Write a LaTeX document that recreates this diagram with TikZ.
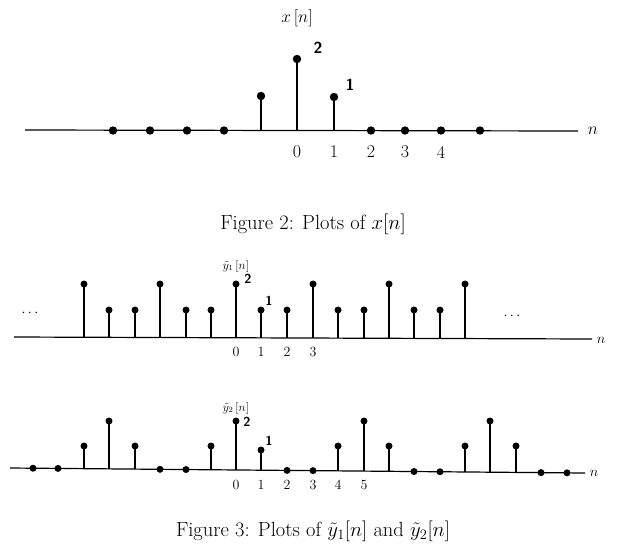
\documentclass[tikz,border=0pt]{standalone}
\begin{document}
\begin{tikzpicture}[x=1pt,y=-1pt,
  stem/.style={line width=1.4pt},
  axisline/.style={line width=1.2pt},
  lab/.style={font=\fontsize{18}{20}\selectfont},
  val/.style={font=\sffamily\bfseries\fontsize{16}{18}\selectfont},
  sval/.style={font=\sffamily\bfseries\fontsize{13}{15}\selectfont},
  slab/.style={font=\fontsize{14}{16}\selectfont},
  figcap/.style={font=\fontsize{20.5}{24}\selectfont}]
\useasboundingbox (0,0) rectangle (639,558);
% ---------- plot 1
\draw[axisline] (25,130) -- (578,131);
\foreach \x in {113,150,187,224,371,405,441,480} \fill (\x,130.5) circle (4.2);
\foreach \x/\t in {261/96,297/59,334/97}{\draw[stem] (\x,130.5) -- (\x,\t); \fill (\x,\t) circle (4.2);}
\foreach \x/\l in {297/0,334/1,371/2,405/3,441/4} \node[lab] at (\x,152) {\l};
\node[lab] (xn) at (297,18) {$x\,[n]$};
\node[val] at (318,48) {2};
\node[val] at (350,85) {1};
\node[lab] at (593,131) {$n$};
\node[figcap] (c2) at (313,224) {Figure 2: Plots of $x[n]$};
% ---------- plot 2
\draw[axisline] (14,337) -- (592,339);
\foreach \x in {84,160,236,313,389,465}{\draw[stem] (\x,338) -- (\x,284); \fill (\x,284) circle (3.5);}
\foreach \x in {109,135,186,211,261,287,338,364,414,440}{\draw[stem] (\x,338) -- (\x,310); \fill (\x,310) circle (3.5);}
\foreach \x/\l in {236/0,261/1,287/2,313/3} \node[slab] at (\x,352) {\l};
\node[font=\fontsize{12}{14}\selectfont] at (236,266) {$\tilde y_1\,[n]$};
\node[sval] at (248,279) {2};
\node[sval] at (269,301) {1};
\node[slab] at (30,313) {$\cdots$};
\node[slab] at (512,316) {$\cdots$};
\node[slab] at (601,340) {$n$};
% ---------- plot 3
\draw[axisline] (10,468) -- (585,473);
\foreach \x in {33,58,160,186,287,313,414,440,541,567} \fill (\x,{468+(\x-10)*5/575}) circle (3.5);
\foreach \x in {109,236,364,490}{\draw[stem] ({\x},{468+(\x-10)*5/575}) -- (\x,421); \fill (\x,421) circle (3.5);}
\foreach \x in {84,135,211,338,389,465,516}{\draw[stem] ({\x},{468+(\x-10)*5/575}) -- (\x,446); \fill (\x,446) circle (3.5);}
\draw[stem] (261,470) -- (261,450); \fill (261,450) circle (3.5);
\foreach \x/\l in {236/0,261/1,287/2,313/3,338/4,364/5} \node[slab] at (\x,485) {\l};
\node[font=\fontsize{12}{14}\selectfont] at (236,408) {$\tilde y_2\,[n]$};
\node[sval] at (247,422) {2};
\node[sval] at (269,441) {1};
\node[slab] at (594,473) {$n$};
\node[figcap] (c3) at (313,531) {Figure 3: Plots of $\tilde y_1[n]$ and $\tilde y_2[n]$};
\end{tikzpicture}
\end{document}
